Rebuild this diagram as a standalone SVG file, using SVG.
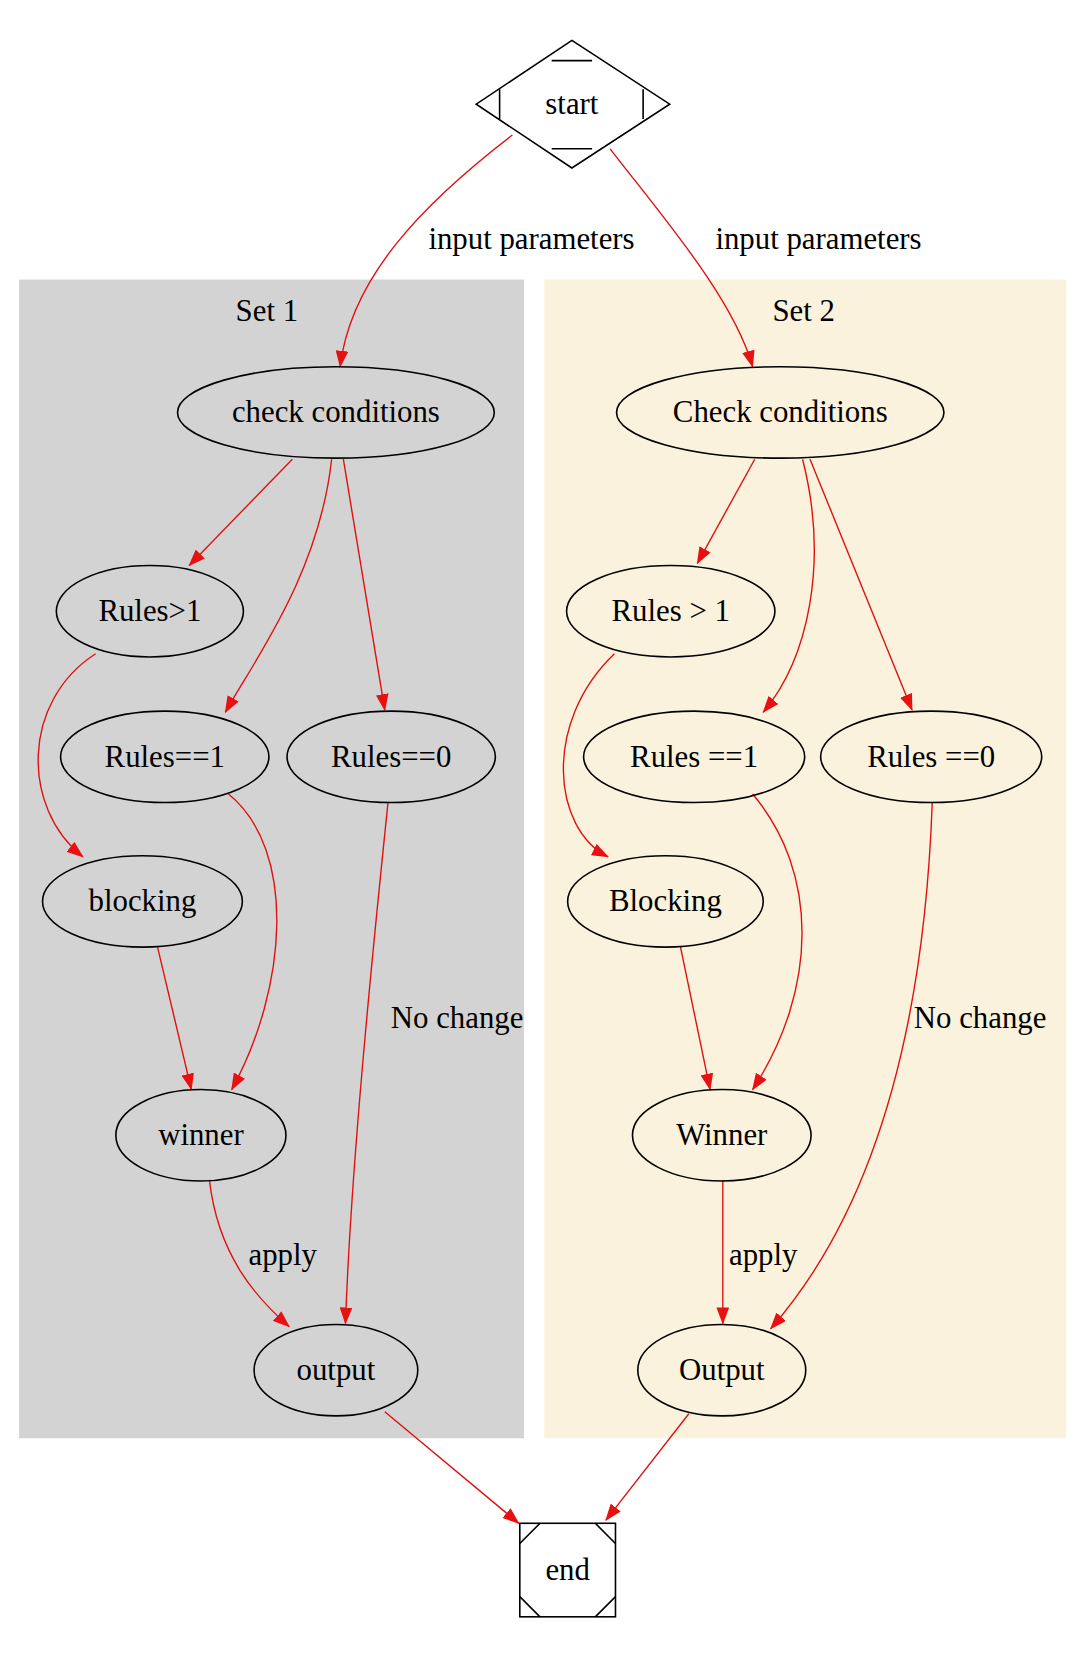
<svg xmlns="http://www.w3.org/2000/svg" width="1078" height="1666" viewBox="0 0 1078 1666">
<style>
text{font-family:"Liberation Serif","DejaVu Serif",serif;font-size:29px;fill:#000;text-anchor:middle;dominant-baseline:central}
.n ellipse,.n rect,.n polygon,.n line{fill:none;stroke:#000;stroke-width:1.5}
.e path{fill:none;stroke:#e01010;stroke-width:1.3;marker-end:url(#a)}
</style>
<defs><marker id="a" markerUnits="userSpaceOnUse" markerWidth="16" markerHeight="12" refX="15" refY="6" orient="auto"><path d="M0,0 L16,6 L0,12 Z" fill="#e81010"/></marker></defs>
<rect width="1078" height="1666" fill="#fff"/>
<g transform="scale(1.063)">
<g id="cluster1"><rect x="18" y="263" width="475" height="1090" fill="#d3d3d3"/><text x="251" y="293">Set 1</text></g>
<g id="cluster2"><rect x="512" y="263" width="491" height="1090" fill="#faf2dc"/><text x="756" y="293">Set 2</text></g>
<g class="e" id="edges">
<path d="M482,127 C400,190 330,260 320,345"/>
<path d="M574,140 C620,200 690,280 708,345"/>
<path d="M275,432 L178,532"/>
<path d="M312,432 C300,540 240,620 212,670"/>
<path d="M323,432 L362,668"/>
<path d="M90,615 C20,660 20,760 78,806"/>
<path d="M215,747 C280,800 270,930 218,1025"/>
<path d="M148,890 L180,1025"/>
<path d="M197,1110 C205,1180 240,1220 272,1248"/>
<path d="M365,755 C350,900 330,1100 325,1245"/>
<path d="M362,1328 L488,1433"/>
<path d="M710,432 L656,530"/>
<path d="M755,432 C780,530 760,620 718,670"/>
<path d="M762,432 L858,668"/>
<path d="M578,615 C510,680 520,780 572,806"/>
<path d="M708,747 C770,820 770,930 708,1025"/>
<path d="M640,890 L668,1025"/>
<path d="M680,1110 L680,1245"/>
<path d="M877,755 C870,950 830,1130 725,1250"/>
<path d="M648,1330 L570,1430"/>
</g>
<g id="labels">
<text x="500" y="225">input parameters</text>
<text x="770" y="225">input parameters</text>
<text x="430" y="958">No change</text>
<text x="922" y="958">No change</text>
<text x="266" y="1181">apply</text>
<text x="718" y="1181">apply</text>
</g>
<g class="n" id="start"><polygon points="538,38 630,98 538,158 448,98" style="fill:#fff"/><line x1="519" y1="57" x2="557" y2="57"/><line x1="519" y1="140" x2="557" y2="140"/><line x1="470" y1="84" x2="470" y2="112"/><line x1="605" y1="84" x2="605" y2="112"/><text x="538" y="98">start</text></g>
<g class="n" id="check1"><ellipse cx="316" cy="388" rx="149" ry="43"/><text x="316" y="388">check conditions</text></g>
<g class="n" id="check2"><ellipse cx="734" cy="388" rx="154" ry="43"/><text x="734" y="388">Check conditions</text></g>
<g class="n" id="rgt1a"><ellipse cx="141" cy="575" rx="88" ry="43"/><text x="141" y="575">Rules&gt;1</text></g>
<g class="n" id="req1a"><ellipse cx="155" cy="712" rx="98" ry="43"/><text x="155" y="712">Rules==1</text></g>
<g class="n" id="req0a"><ellipse cx="368" cy="712" rx="98" ry="43"/><text x="368" y="712">Rules==0</text></g>
<g class="n" id="blocking1"><ellipse cx="134" cy="848" rx="94" ry="43"/><text x="134" y="848">blocking</text></g>
<g class="n" id="winner1"><ellipse cx="189" cy="1068" rx="80" ry="43"/><text x="189" y="1068">winner</text></g>
<g class="n" id="output1"><ellipse cx="316" cy="1289" rx="77" ry="43"/><text x="316" y="1289">output</text></g>
<g class="n" id="rgt1b"><ellipse cx="631" cy="575" rx="98" ry="43"/><text x="631" y="575">Rules &gt; 1</text></g>
<g class="n" id="req1b"><ellipse cx="653" cy="712" rx="104" ry="43"/><text x="653" y="712">Rules ==1</text></g>
<g class="n" id="req0b"><ellipse cx="876" cy="712" rx="104" ry="43"/><text x="876" y="712">Rules ==0</text></g>
<g class="n" id="blocking2"><ellipse cx="626" cy="848" rx="92" ry="43"/><text x="626" y="848">Blocking</text></g>
<g class="n" id="winner2"><ellipse cx="679" cy="1068" rx="84" ry="43"/><text x="679" y="1068">Winner</text></g>
<g class="n" id="output2"><ellipse cx="679" cy="1289" rx="79" ry="43"/><text x="679" y="1289">Output</text></g>
<g class="n" id="end"><rect x="489" y="1433" width="90" height="88"/><line x1="489" y1="1452" x2="508" y2="1433"/><line x1="560" y1="1433" x2="579" y2="1452"/><line x1="489" y1="1502" x2="508" y2="1521"/><line x1="560" y1="1521" x2="579" y2="1502"/><text x="534" y="1477">end</text></g>
</g>
</svg>
